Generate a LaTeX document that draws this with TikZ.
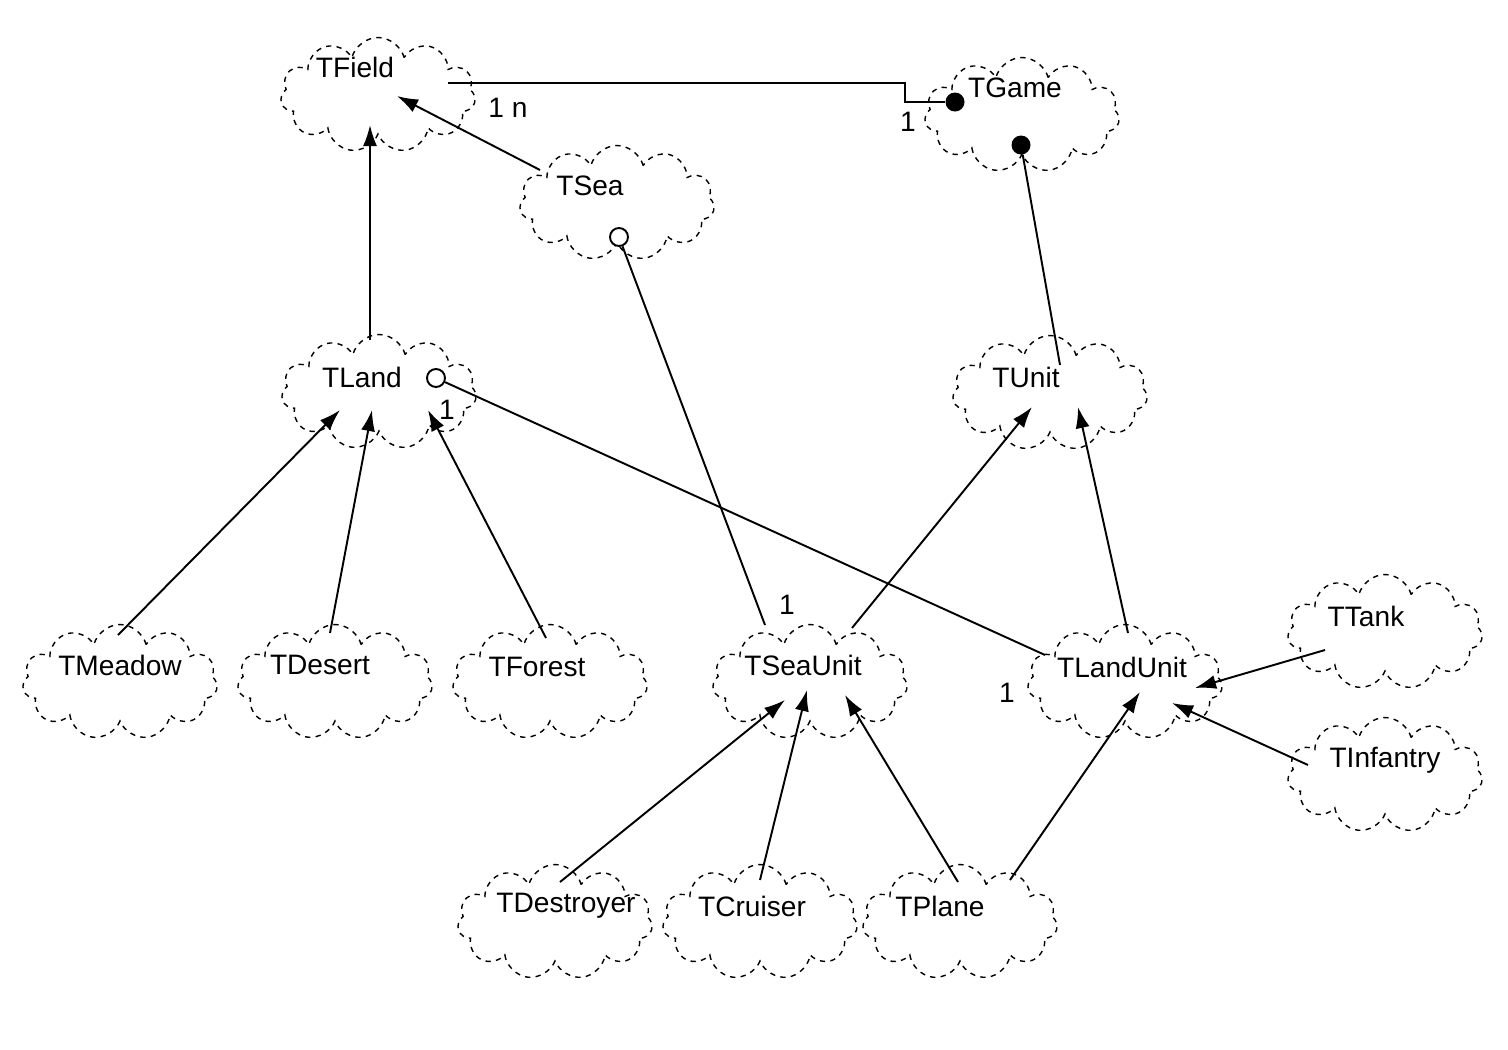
\documentclass[tikz,border=0pt]{standalone}
\usepackage{fontspec}
\setmainfont{Liberation Sans}
\usetikzlibrary{shapes.symbols,arrows.meta}
\begin{document}
\begin{tikzpicture}[x=0.02cm,y=-0.02cm,
  cl/.style={cloud,cloud puffs=11,aspect=1.7,draw,dashed,line width=0.8pt,minimum width=3.9cm,minimum height=2.3cm,inner sep=0pt},
  lbl/.style={font=\fontsize{16}{19}\selectfont},
  gen/.style={line width=1.1pt,-{Latex[length=12pt,width=8pt]}},
  asc/.style={line width=1.1pt},
  fdot/.style={circle,fill=black,minimum size=0.38cm,inner sep=0pt},
  odot/.style={circle,draw,fill=white,line width=1.1pt,minimum size=0.36cm,inner sep=0pt}]
\useasboundingbox (0,0) rectangle (1508,1049);
\node[cl] (cField) at (378,95) {};
\node[cl] (cGame) at (1022,115) {};
\node[cl] (cSea) at (617,203) {};
\node[cl] (cLand) at (379,392) {};
\node[cl] (cUnit) at (1050,393) {};
\node[cl] (cMeadow) at (120,682) {};
\node[cl] (cDesert) at (335,682) {};
\node[cl] (cForest) at (550,682) {};
\node[cl] (cSeaUnit) at (810,682) {};
\node[cl] (cLandUnit) at (1125,682) {};
\node[cl] (cTank) at (1385,632) {};
\node[cl] (cInf) at (1385,775) {};
\node[cl] (cDes) at (555,922) {};
\node[cl] (cCru) at (760,922) {};
\node[cl] (cPla) at (960,922) {};
\node[lbl] (tField) at (355,67) {TField};
\node[lbl] (tGame) at (1015,88) {TGame};
\node[lbl] (tSea) at (590,186) {TSea};
\node[lbl] (tLand) at (362,377) {TLand};
\node[lbl] (tUnit) at (1026,377) {TUnit};
\node[lbl] (tMeadow) at (120,665) {TMeadow};
\node[lbl] (tDesert) at (320,665) {TDesert};
\node[lbl] (tForest) at (537,667) {TForest};
\node[lbl] (tSeaUnit) at (803,665) {TSeaUnit};
\node[lbl] (tLandUnit) at (1122,667) {TLandUnit};
\node[lbl] (tTank) at (1366,616) {TTank};
\node[lbl] (tInf) at (1385,760) {TInfantry};
\node[lbl] (tDes) at (566,906) {TDestroyer};
\node[lbl] (tCru) at (752,906) {TCruiser};
\node[lbl] (tPla) at (940,906) {TPlane};
% anchor coordinates
\coordinate (a1) at (370,340); \coordinate (b1) at (370,125);
\coordinate (a2) at (540,170); \coordinate (b2) at (397,96);
\coordinate (a3) at (118,635); \coordinate (b3) at (340,410);
\coordinate (a4) at (330,633); \coordinate (b4) at (372,410);
\coordinate (a5) at (546,638); \coordinate (b5) at (428,410);
\coordinate (a6) at (852,628); \coordinate (b6) at (1032,407);
\coordinate (a7) at (1128,633); \coordinate (b7) at (1078,407);
\coordinate (a8) at (1325,650); \coordinate (b8) at (1195,688);
\coordinate (a9) at (1308,765); \coordinate (b9) at (1172,703);
\coordinate (a10) at (560,882); \coordinate (b10) at (785,700);
\coordinate (a11) at (760,880); \coordinate (b11) at (807,690);
\coordinate (a12) at (958,882); \coordinate (b12) at (845,695);
\coordinate (a13) at (1010,880); \coordinate (b13) at (1140,692);
\foreach \i in {1,...,13} {\draw[gen] (a\i) -- (b\i);}
% associations
\node[fdot] (d1) at (955,102) {};
\node[fdot] (d2) at (1021,145) {};
\node[odot] (o1) at (619,237) {};
\node[odot] (o2) at (436,378) {};
\coordinate (f1) at (448,83);
\coordinate (u1) at (1060,365);
\coordinate (s1) at (765,625);
\coordinate (l1) at (1045,655);
\draw[asc] (f1) -- (905,83) -- (905,102) -- (d1);
\draw[asc] (d2) -- (u1);
\draw[asc] (o1) -- (s1);
\draw[asc] (o2) -- (l1);
\node[lbl] (m1) at (508,108) {1 n};
\node[lbl] (m2) at (908,122) {1};
\node[lbl] (m3) at (787,605) {1};
\node[lbl] (m4) at (447,410) {1};
\node[lbl] (m5) at (1007,693) {1};
\end{tikzpicture}
\end{document}
